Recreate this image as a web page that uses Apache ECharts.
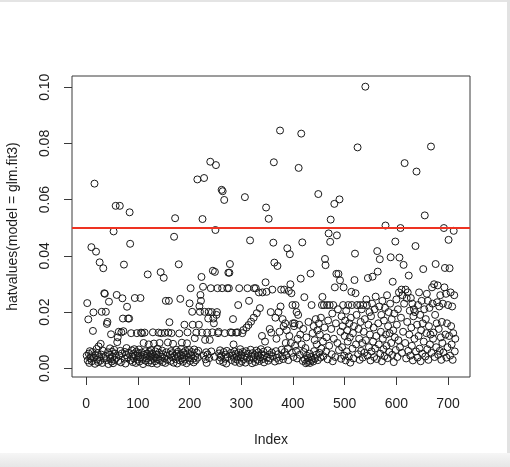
<!DOCTYPE html>
<html>
<head>
<meta charset="utf-8">
<script src="https://cdn.jsdelivr.net/npm/echarts@6/dist/echarts.min.js"></script>
<style>
html,body{margin:0;padding:0;background:#fff;}
#chart{width:510px;height:467px;}
</style>
</head>
<body>
<div id="chart"></div>
<script>
const hatvalues = [
/*1*/   0.0045,0.0232,0.0028,0.0174,0.0052,0.0019,0.0061,0.0035,0.0042,0.0431,
/*11*/  0.0025,0.0058,0.0133,0.0199,0.0038,0.0657,0.0016,0.0047,0.0415,0.0069,
/*21*/  0.0031,0.0054,0.0022,0.0078,0.0040,0.0377,0.0027,0.0087,0.0049,0.0201,
/*31*/  0.0019,0.0063,0.0356,0.0036,0.0267,0.0265,0.0044,0.0201,0.0029,0.0158,
/*41*/  0.0165,0.0057,0.0015,0.0237,0.0048,0.0071,0.0033,0.0121,0.0024,0.0059,
/*51*/  0.0041,0.0018,0.0487,0.0066,0.0030,0.0052,0.0578,0.0037,0.0261,0.0093,
/*61*/  0.0110,0.0026,0.0130,0.0045,0.0578,0.0062,0.0021,0.0128,0.0053,0.0249,
/*71*/  0.0177,0.0132,0.0369,0.0034,0.0058,0.0017,0.0047,0.0072,0.0219,0.0039,
/*81*/  0.0177,0.0055,0.0177,0.0555,0.0443,0.0028,0.0125,0.0064,0.0042,0.0022,
/*91*/  0.0051,0.0035,0.0068,0.0250,0.0046,0.0019,0.0059,0.0125,0.0031,0.0054,
/*101*/ 0.0043,0.0067,0.0024,0.0038,0.0250,0.0127,0.0056,0.0125,0.0033,0.0015,
/*111*/ 0.0090,0.0048,0.0127,0.0061,0.0027,0.0044,0.0036,0.0053,0.0334,0.0021,
/*121*/ 0.0085,0.0058,0.0040,0.0029,0.0065,0.0047,0.0018,0.0052,0.0128,0.0034,
/*131*/ 0.0088,0.0043,0.0025,0.0060,0.0038,0.0049,0.0016,0.0070,0.0032,0.0127,
/*141*/ 0.0055,0.0090,0.0027,0.0342,0.0125,0.0041,0.0063,0.0022,0.0050,0.0322,
/*151*/ 0.0036,0.0126,0.0019,0.0240,0.0057,0.0045,0.0030,0.0092,0.0127,0.0240,
/*161*/ 0.0164,0.0048,0.0026,0.0061,0.0125,0.0039,0.0054,0.0087,0.0020,0.0468,
/*171*/ 0.0044,0.0534,0.0033,0.0066,0.0051,0.0017,0.0042,0.0059,0.0370,0.0124,
/*181*/ 0.0028,0.0247,0.0046,0.0069,0.0091,0.0035,0.0023,0.0056,0.0040,0.0155,
/*191*/ 0.0031,0.0062,0.0048,0.0018,0.0089,0.0128,0.0053,0.0037,0.0065,0.0231,
/*201*/ 0.0026,0.0285,0.0047,0.0058,0.0201,0.0155,0.0034,0.0021,0.0067,0.0107,
/*211*/ 0.0043,0.0029,0.0127,0.0055,0.0672,0.0038,0.0062,0.0155,0.0221,0.0201,
/*221*/ 0.0261,0.0240,0.0325,0.0127,0.0531,0.0290,0.0045,0.0677,0.0201,0.0101,
/*231*/ 0.0032,0.0057,0.0019,0.0127,0.0049,0.0177,0.0201,0.0036,0.0101,0.0735,
/*241*/ 0.0285,0.0060,0.0200,0.0128,0.0347,0.0177,0.0160,0.0041,0.0343,0.0492,
/*251*/ 0.0723,0.0190,0.0200,0.0285,0.0125,0.0130,0.0053,0.0027,0.0064,0.0038,
/*261*/ 0.0045,0.0635,0.0285,0.0630,0.0022,0.0058,0.0599,0.0125,0.0034,0.0049,
/*271*/ 0.0017,0.0062,0.0285,0.0040,0.0340,0.0285,0.0340,0.0371,0.0128,0.0055,
/*281*/ 0.0029,0.0127,0.0046,0.0175,0.0085,0.0037,0.0060,0.0023,0.0051,0.0127,
/*291*/ 0.0042,0.0031,0.0128,0.0225,0.0056,0.0285,0.0019,0.0068,0.0039,0.0047,
/*301*/ 0.0025,0.0125,0.0058,0.0136,0.0033,0.0044,0.0609,0.0020,0.0061,0.0145,
/*311*/ 0.0037,0.0285,0.0052,0.0154,0.0240,0.0029,0.0455,0.0066,0.0166,0.0041,
/*321*/ 0.0018,0.0054,0.0035,0.0180,0.0285,0.0048,0.0022,0.0285,0.0063,0.0196,
/*331*/ 0.0031,0.0045,0.0057,0.0270,0.0026,0.0214,0.0039,0.0068,0.0050,0.0115,
/*341*/ 0.0270,0.0033,0.0059,0.0021,0.0046,0.0095,0.0306,0.0572,0.0272,0.0038,
/*351*/ 0.0064,0.0027,0.0532,0.0049,0.0140,0.0035,0.0200,0.0127,0.0056,0.0280,
/*361*/ 0.0043,0.0447,0.0733,0.0376,0.0024,0.0180,0.0061,0.0105,0.0037,0.0364,
/*371*/ 0.0050,0.0200,0.0028,0.0130,0.0846,0.0220,0.0280,0.0066,0.0042,0.0175,
/*381*/ 0.0033,0.0150,0.0280,0.0058,0.0160,0.0090,0.0046,0.0135,0.0427,0.0071,
/*391*/ 0.0029,0.0275,0.0115,0.0406,0.0299,0.0090,0.0267,0.0055,0.0225,0.0160,
/*401*/ 0.0040,0.0150,0.0160,0.0080,0.0225,0.0062,0.0200,0.0035,0.0105,0.0190,
/*411*/ 0.0713,0.0155,0.0048,0.0120,0.0319,0.0835,0.0085,0.0448,0.0026,0.0140,
/*421*/ 0.0058,0.0253,0.0031,0.0072,0.0018,0.0110,0.0045,0.0022,0.0036,0.0165,
/*431*/ 0.0027,0.0052,0.0019,0.0337,0.0040,0.0225,0.0030,0.0125,0.0024,0.0150,
/*441*/ 0.0061,0.0100,0.0035,0.0175,0.0048,0.0085,0.0135,0.0029,0.0620,0.0160,
/*451*/ 0.0055,0.0120,0.0038,0.0180,0.0070,0.0225,0.0254,0.0095,0.0043,0.0225,
/*461*/ 0.0145,0.0389,0.0367,0.0060,0.0110,0.0225,0.0032,0.0170,0.0480,0.0080,
/*471*/ 0.0225,0.0450,0.0529,0.0140,0.0050,0.0195,0.0025,0.0225,0.0105,0.0585,
/*481*/ 0.0288,0.0040,0.0160,0.0336,0.0473,0.0090,0.0210,0.0336,0.0065,0.0601,
/*491*/ 0.0313,0.0130,0.0034,0.0185,0.0075,0.0150,0.0225,0.0288,0.0045,0.0115,
/*501*/ 0.0170,0.0028,0.0205,0.0060,0.0135,0.0095,0.0225,0.0042,0.0160,0.0110,
/*511*/ 0.0020,0.0180,0.0272,0.0225,0.0070,0.0125,0.0035,0.0150,0.0314,0.0408,
/*521*/ 0.0267,0.0085,0.0190,0.0225,0.0786,0.0050,0.0140,0.0105,0.0030,0.0225,
/*531*/ 0.0165,0.0062,0.0210,0.0090,0.0038,0.0225,0.0130,0.0055,0.0175,0.1002,
/*541*/ 0.0100,0.0245,0.0225,0.0045,0.0321,0.0155,0.0075,0.0200,0.0120,0.0028,
/*551*/ 0.0185,0.0060,0.0230,0.0326,0.0095,0.0145,0.0040,0.0210,0.0070,0.0255,
/*561*/ 0.0115,0.0033,0.0417,0.0344,0.0160,0.0085,0.0220,0.0388,0.0052,0.0130,
/*571*/ 0.0190,0.0025,0.0240,0.0105,0.0068,0.0170,0.0043,0.0215,0.0508,0.0120,
/*581*/ 0.0080,0.0260,0.0036,0.0150,0.0200,0.0058,0.0125,0.0230,0.0395,0.0090,
/*591*/ 0.0175,0.0048,0.0308,0.0135,0.0022,0.0195,0.0110,0.0451,0.0065,0.0245,
/*601*/ 0.0155,0.0040,0.0210,0.0100,0.0270,0.0394,0.0075,0.0499,0.0180,0.0280,
/*611*/ 0.0055,0.0260,0.0130,0.0368,0.0230,0.0730,0.0090,0.0280,0.0035,0.0250,
/*621*/ 0.0165,0.0270,0.0062,0.0330,0.0120,0.0205,0.0045,0.0250,0.0145,0.0080,
/*631*/ 0.0230,0.0028,0.0185,0.0210,0.0105,0.0200,0.0435,0.0060,0.0700,0.0155,
/*641*/ 0.0038,0.0225,0.0115,0.0270,0.0070,0.0190,0.0025,0.0135,0.0240,0.0052,
/*651*/ 0.0160,0.0353,0.0095,0.0210,0.0544,0.0042,0.0175,0.0125,0.0265,0.0068,
/*661*/ 0.0240,0.0030,0.0150,0.0215,0.0085,0.0120,0.0789,0.0055,0.0288,0.0230,
/*671*/ 0.0105,0.0127,0.0299,0.0040,0.0190,0.0371,0.0075,0.0160,0.0235,0.0295,
/*681*/ 0.0048,0.0140,0.0220,0.0062,0.0260,0.0110,0.0030,0.0165,0.0090,0.0230,
/*691*/ 0.0056,0.0499,0.0288,0.0357,0.0120,0.0265,0.0038,0.0160,0.0075,0.0225,
/*701*/ 0.0457,0.0115,0.0356,0.0045,0.0270,0.0150,0.0085,0.0220,0.0030,0.0125,
/*711*/ 0.0489,0.0260,0.0060,0.0105
];
const thresholdLine = [0.0462];           // red horizontal reference line
const xTicks = [0, 100, 200, 300, 400, 500, 600, 700];
const yTicks = [0.00, 0.02, 0.04, 0.06, 0.08, 0.10];
const xTitle = 'Index';
const yTitle = 'hatvalues(model = glm.fit3)';

const points = hatvalues.map((v, i) => [i + 1, v]);
const FONT = "'Liberation Sans', Arial, Helvetica, sans-serif";
const TXT = '#1e1e1e';

const chart = echarts.init(document.getElementById('chart'), null, {renderer: 'canvas'});
chart.setOption({
  backgroundColor: '#ffffff',
  animation: false,
  grid: {
    left: 72, right: 40, top: 76, bottom: 90,
    show: true, borderColor: '#3a3a3a', borderWidth: 1,
    backgroundColor: 'transparent',
    containLabel: false, outerBoundsMode: 'none'
  },
  xAxis: {
    type: 'value', min: -27.5, max: 742.5,
    name: xTitle, nameLocation: 'middle', nameGap: 56,
    nameTextStyle: {fontFamily: FONT, fontSize: 14, color: TXT},
    axisLine: {show: false, onZero: false},
    axisTick: {show: true, customValues: xTicks, length: 8, lineStyle: {color: '#3a3a3a', width: 1}},
    axisLabel: {customValues: xTicks, margin: 20, fontFamily: FONT, fontSize: 14, color: TXT},
    splitLine: {show: false}
  },
  yAxis: {
    type: 'value', min: -0.0031, max: 0.1040,
    name: yTitle, nameLocation: 'middle', nameGap: 52, nameRotate: 90,
    nameTextStyle: {fontFamily: FONT, fontSize: 14, color: TXT},
    axisLine: {show: false, onZero: false},
    axisTick: {show: true, customValues: yTicks, length: 8, lineStyle: {color: '#3a3a3a', width: 1}},
    axisLabel: {customValues: yTicks, rotate: 90, margin: 20, fontFamily: FONT, fontSize: 14, color: TXT,
      formatter: v => v.toFixed(2)},
    splitLine: {show: false}
  },
  series: [{
    type: 'scatter',
    data: points,
    symbol: 'circle',
    symbolSize: 7,
    itemStyle: {color: 'rgba(0,0,0,0)', borderColor: '#1a1a1a', borderWidth: 1, opacity: 1},
    emphasis: {disabled: true},
    markLine: {
      silent: true, symbol: 'none', animation: false,
      label: {show: false},
      lineStyle: {color: '#ee3322', width: 1.8, type: 'solid'},
      data: thresholdLine.map(v => ({yAxis: v}))
    }
  }],
  graphic: [
    {type: 'rect', left: 0, top: 0, shape: {width: 510, height: 2}, style: {fill: '#e4e4e4'}, silent: true},
    {type: 'rect', right: 0, top: 0, shape: {width: 3, height: 467}, style: {fill: '#e2e2e2'}, silent: true},
    {type: 'rect', left: 0, bottom: 0, shape: {width: 510, height: 14}, silent: true,
      style: {fill: new echarts.graphic.LinearGradient(0, 0, 0, 1, [
        {offset: 0, color: '#f6f6f6'}, {offset: 1, color: '#e6e6e6'}])}}
  ]
});
</script>
</body>
</html>
